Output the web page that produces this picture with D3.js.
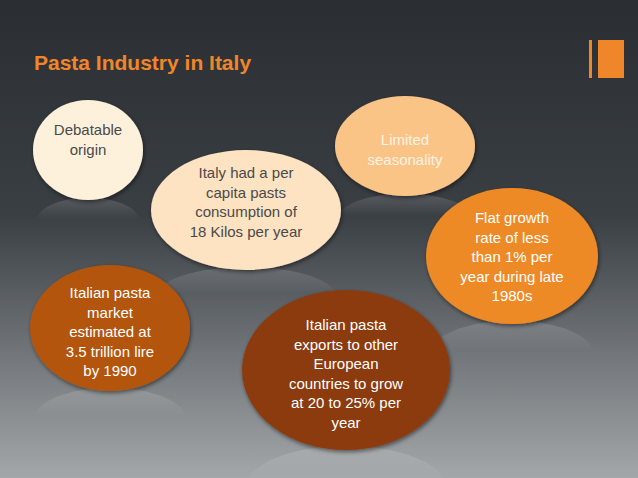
<!DOCTYPE html>
<html><head><meta charset="utf-8">
<script src="https://cdn.jsdelivr.net/npm/d3@7"></script>
<style>body{margin:0;overflow:hidden}svg{display:block}</style></head>
<body><svg id="c" width="638" height="478"></svg>
<script>
const title = "Pasta Industry in Italy";
const bubbleTexts = [
  ["Debatable","origin"],
  ["Italy had a per","capita pasts","consumption of","18 Kilos per year"],
  ["Limited","seasonality"],
  ["Flat growth","rate of less","than 1% per","year during late","1980s"],
  ["Italian pasta","market","estimated at","3.5 trillion lire","by 1990"],
  ["Italian pasta","exports to other","European","countries to grow","at 20 to 25% per","year"]
];
const layout = [
  {cx:88,cy:150,rx:55,ry:50,fill:"#fdf1dc",tc:"#4a4a4a",ty:135},
  {cx:246,cy:210,rx:95,ry:60,fill:"#fde3c2",tc:"#4a4a4a",ty:178},
  {cx:405,cy:146,rx:70,ry:50,fill:"#fbc487",tc:"#fdf3e6",ty:145},
  {cx:512,cy:256,rx:86,ry:68,fill:"#ee8a25",tc:"#ffffff",ty:223},
  {cx:110,cy:328,rx:80,ry:63,fill:"#b3550f",tc:"#ffffff",ty:298},
  {cx:346,cy:370,rx:104,ry:80,fill:"#8b3b0b",tc:"#ffffff",ty:330}
];
const svg = d3.select("#c");
const defs = svg.append("defs");
const bg = defs.append("linearGradient").attr("id","bg").attr("x1",0).attr("y1",0).attr("x2",0).attr("y2",1);
bg.append("stop").attr("offset","0%").attr("stop-color","#2a2e33");
bg.append("stop").attr("offset","45%").attr("stop-color","#3a3f44");
bg.append("stop").attr("offset","100%").attr("stop-color","#a3a7aa");
svg.append("rect").attr("width",638).attr("height",478).attr("fill","url(#bg)");
const rg = defs.append("linearGradient").attr("id","refl").attr("x1",0).attr("y1",0).attr("x2",0).attr("y2",1);
rg.append("stop").attr("offset","0%").attr("stop-color","#ffffff").attr("stop-opacity",0.16);
rg.append("stop").attr("offset","45%").attr("stop-color","#ffffff").attr("stop-opacity",0);
const sh = defs.append("filter").attr("id","sh").attr("x","-20%").attr("y","-20%").attr("width","140%").attr("height","140%");
sh.append("feDropShadow").attr("dx",1).attr("dy",2).attr("stdDeviation",2).attr("flood-opacity",0.5);

svg.append("text").attr("x",34).attr("y",70).attr("fill","#f0862a")
  .attr("font-family","Liberation Sans, Arial, sans-serif").attr("font-weight","bold").attr("font-size",21).text(title);
svg.append("rect").attr("x",589).attr("y",40).attr("width",3).attr("height",38).attr("fill","#f0862a");
svg.append("rect").attr("x",598).attr("y",40).attr("width",26).attr("height",38).attr("fill","#f0862a");

const g = svg.selectAll("g.b").data(bubbleTexts).join("g");
g.append("ellipse")
  .attr("cx",(d,i)=>layout[i].cx).attr("cy",(d,i)=>layout[i].cy+layout[i].ry*1.45)
  .attr("rx",(d,i)=>layout[i].rx*0.95).attr("ry",(d,i)=>layout[i].ry*0.5)
  .attr("fill","url(#refl)");
g.append("ellipse")
  .attr("cx",(d,i)=>layout[i].cx).attr("cy",(d,i)=>layout[i].cy)
  .attr("rx",(d,i)=>layout[i].rx).attr("ry",(d,i)=>layout[i].ry)
  .attr("fill",(d,i)=>layout[i].fill).attr("filter","url(#sh)");
g.each(function(d,i){
  const t = d3.select(this).append("text").attr("text-anchor","middle")
    .attr("font-family","Liberation Sans, Arial, sans-serif").attr("font-size",15)
    .attr("fill",layout[i].tc);
  d.forEach((line,k)=>t.append("tspan").attr("x",layout[i].cx).attr("y",layout[i].ty+k*19.5).text(line));
});
</script></body></html>
